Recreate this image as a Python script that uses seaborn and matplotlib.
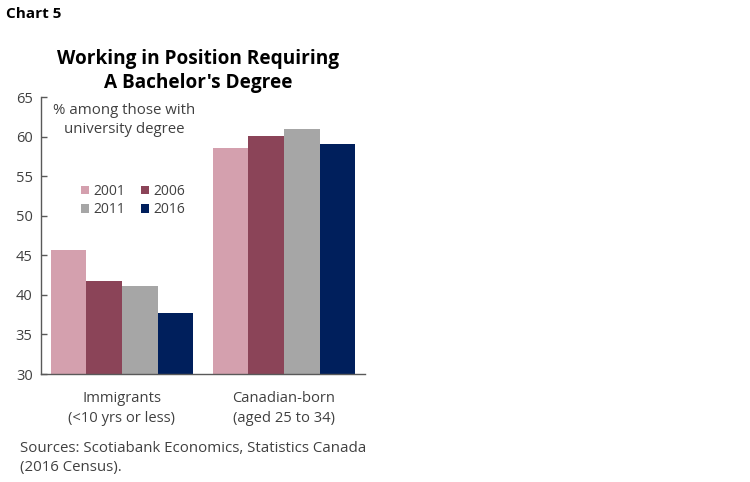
import matplotlib
matplotlib.use("Agg")
import matplotlib.pyplot as plt
import seaborn as sns
import pandas as pd

# --- data ---
groups = ["Immigrants\n(<10 yrs or less)", "Canadian-born\n(aged 25 to 34)"]
years = ["2001", "2006", "2011", "2016"]
v2001 = [45.7, 58.6]
v2006 = [41.7, 60.1]
v2011 = [41.1, 60.9]
v2016 = [37.7, 59.0]
colors = ["#D4A0AE", "#8B4458", "#A6A6A6", "#001F5C"]

rows = []
for yr, vals in zip(years, [v2001, v2006, v2011, v2016]):
    for g, v in zip(groups, vals):
        rows.append({"group": g, "year": yr, "value": v})
df = pd.DataFrame(rows)

sns.set_style("white")
plt.rcParams["font.family"] = ["Open Sans", "DejaVu Sans"]
TXT = "#404040"

fig = plt.figure(figsize=(7.5, 4.82), dpi=100)
ax = fig.add_axes([41 / 750, 1 - 374 / 482, 324 / 750, 277 / 482])

sns.barplot(data=df, x="group", y="value", hue="year", palette=colors,
            width=0.88, gap=0, saturation=1, linewidth=0, ax=ax, legend=True)

ax.set_ylim(30, 65)
ax.set_xlim(-0.5, 1.5)
ax.set_yticks(range(30, 66, 5))
ax.set_xlabel("")
ax.set_ylabel("")
ax.set_xticks([0, 1])
ax.set_xticklabels([])
ax.set_xticks([-0.5, 0.5, 1.5], minor=True)
ax.tick_params(axis="x", which="major", length=0)
ax.tick_params(axis="x", which="minor", direction="in", length=4, width=1, color="#595959")
ax.tick_params(axis="y", direction="in", length=4, width=1, color="#595959",
               labelsize=10.5, labelcolor=TXT, pad=6, left=True)
for s in ["top", "right"]:
    ax.spines[s].set_visible(False)
for s in ["left", "bottom"]:
    ax.spines[s].set_color("#595959")
    ax.spines[s].set_linewidth(1)

# category labels below the axis
for i, g in enumerate(groups):
    ax.text(i, -0.06, g, transform=ax.get_xaxis_transform(), ha="center", va="top",
            fontsize=10.6, color=TXT, linespacing=1.45)

# legend: 2001 2006 on the first row, 2011 2016 on the second
h, l = ax.get_legend_handles_labels()
order = [0, 2, 1, 3]
ax.legend([h[i] for i in order], [l[i] for i in order], ncol=2, frameon=False,
          loc="upper left", bbox_to_anchor=(74 / 750, 1 - 177 / 482),
          bbox_transform=fig.transFigure,
          handlelength=0.6, handleheight=0.6, handletextpad=0.3, columnspacing=1.1,
          labelspacing=0.25, borderpad=0, fontsize=10, labelcolor=TXT)

fig.text(124 / 750, 1 - 120 / 482, "% among those with\nuniversity degree", ha="center",
         va="center", fontsize=10.8, color=TXT, linespacing=1.3)

fig.text(6 / 750, 1 - 14 / 482, "Chart 5", ha="left", va="center", fontsize=11,
         fontweight="bold", color="black")
fig.text(198 / 750, 1 - 71 / 482, "Working in Position Requiring\nA Bachelor's Degree",
         ha="center", va="center", fontsize=13.7, fontweight="bold", color="black",
         linespacing=1.3)
fig.text(20 / 750, 1 - 458 / 482, "Sources: Scotiabank Economics, Statistics Canada\n(2016 Census).",
         ha="left", va="center", fontsize=10.8, color=TXT, linespacing=1.4)

fig.savefig("out.png", dpi=100)
